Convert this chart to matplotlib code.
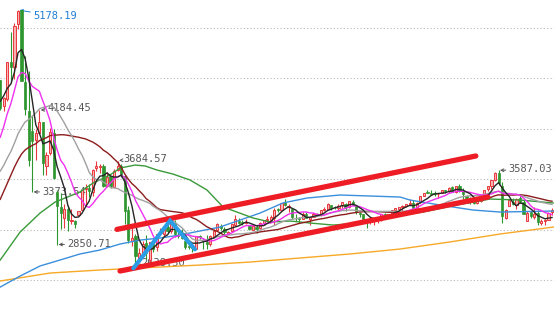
import matplotlib
matplotlib.use("Agg")
import matplotlib.pyplot as plt
import numpy as np

# weekly candles of the index, week 0 = week ending 2015-05-08
opens = [
    4480, 4221, 4300, 4660, 4616, 5044, 5175, 4466, 4172, 3976,
    3891, 3958, 4070, 3630, 3760, 3958, 3373, 3226, 3110, 3200,
    3090, 3090, 3144, 3197, 3398, 3413, 3376, 3612, 3618, 3629,
    3432, 3531, 3426, 3588, 3631, 3536, 3196, 2887, 2939, 2708,
    2742, 2863, 2697, 2889, 2826, 2967, 2958, 3021, 2982, 3067,
    2945, 2937, 2882, 2836, 2823, 2810, 2934, 2891, 2880, 2853,
    2925, 2993, 3038, 3007, 2957, 2982, 3048, 3090, 3070, 3069,
    3034, 3000, 3021, 3015, 3066, 3094, 3095, 3111, 3203, 3196,
    3271, 3226, 3205, 3118, 3110, 3105, 3155, 3103, 3128, 3157,
    3141, 3197, 3202, 3247, 3215, 3213, 3243, 3255, 3223, 3277,
    3238, 3158, 3150, 3094, 3078, 3092, 3098, 3099, 3150, 3129,
    3153, 3190, 3208, 3220, 3235, 3253, 3264, 3207, 3274, 3335,
    3371, 3360, 3356, 3349, 3363, 3392, 3381, 3420, 3369, 3436,
    3383, 3338, 3313, 3286, 3268, 3288, 3314, 3401, 3431, 3494,
    3563, 3436, 3118, 3238, 3277, 3246, 3310, 3273, 3083, 3171,
    3127, 3165, 3062, 3081, 3093, 3170,
]
highs = [
    4488, 4317, 4658, 4960, 5052, 5178, 5176, 4720, 4575, 4134,
    4001, 4184, 4071, 3773, 4006, 4000, 3388, 3358, 3256, 3236,
    3200, 3092, 3184, 3394, 3457, 3457, 3596, 3678, 3653, 3654,
    3576, 3531, 3600, 3685, 3650, 3539, 3236, 3017, 2952, 2814,
    2882, 2943, 2877, 2898, 2961, 3018, 3017, 3090, 3088, 3097,
    2978, 3003, 2882, 2861, 2838, 2938, 2946, 2912, 2942, 2945,
    3002, 3069, 3055, 3030, 2984, 3053, 3140, 3110, 3093, 3101,
    3036, 3048, 3046, 3074, 3097, 3133, 3145, 3211, 3213, 3263,
    3301, 3250, 3205, 3150, 3125, 3172, 3172, 3128, 3161, 3160,
    3198, 3221, 3260, 3247, 3238, 3251, 3272, 3267, 3287, 3295,
    3239, 3179, 3151, 3100, 3110, 3112, 3127, 3159, 3168, 3157,
    3193, 3218, 3224, 3247, 3254, 3305, 3292, 3269, 3332, 3367,
    3392, 3391, 3379, 3356, 3391, 3394, 3421, 3429, 3434, 3451,
    3409, 3346, 3323, 3317, 3304, 3311, 3392, 3430, 3488, 3568,
    3587, 3476, 3200, 3290, 3314, 3309, 3334, 3291, 3180, 3177,
    3220, 3192, 3108, 3107, 3178, 3219,
]
lows = [
    4187, 4175, 4279, 4457, 4489, 4993, 4476, 4139, 3629, 3374,
    3688, 3951, 3538, 3538, 3744, 3505, 2851, 3007, 3011, 2983,
    3053, 3012, 3133, 3197, 3239, 3320, 3337, 3585, 3564, 3423,
    3418, 3410, 3421, 3578, 3524, 3056, 2868, 2840, 2638, 2683,
    2741, 2704, 2639, 2780, 2788, 2950, 2934, 2966, 2969, 2931,
    2917, 2906, 2806, 2807, 2780, 2805, 2909, 2808, 2807, 2836,
    2923, 2986, 2998, 2941, 2952, 2982, 3040, 3052, 3049, 3058,
    2997, 2998, 2968, 3006, 3045, 3089, 3088, 3044, 3175, 3192,
    3233, 3178, 3100, 3085, 3077, 3104, 3111, 3044, 3124, 3131,
    3139, 3186, 3200, 3196, 3201, 3193, 3218, 3180, 3219, 3246,
    3150, 3127, 3096, 3016, 3053, 3047, 3062, 3085, 3108, 3117,
    3137, 3173, 3195, 3144, 3223, 3247, 3203, 3203, 3262, 3330,
    3359, 3350, 3338, 3317, 3361, 3365, 3364, 3371, 3365, 3368,
    3300, 3302, 3255, 3255, 3254, 3277, 3314, 3385, 3403, 3477,
    3447, 3062, 3107, 3234, 3241, 3204, 3264, 3150, 3083, 3119,
    3101, 3041, 3041, 3050, 3091, 3145,
]
closes = [
    4206, 4309, 4658, 4612, 5023, 5166, 4478, 4193, 3687, 3878,
    3957, 4071, 3664, 3744, 3965, 3508, 3232, 3160, 3200, 3098,
    3092, 3053, 3183, 3391, 3412, 3383, 3590, 3633, 3631, 3436,
    3525, 3435, 3579, 3628, 3539, 3186, 2901, 2917, 2738, 2763,
    2860, 2767, 2874, 2810, 2955, 2979, 3010, 2985, 3078, 2959,
    2938, 2913, 2827, 2825, 2821, 2939, 2927, 2885, 2854, 2932,
    2988, 3054, 3013, 2979, 2977, 3051, 3108, 3070, 3067, 3079,
    3003, 3034, 3005, 3064, 3091, 3104, 3125, 3196, 3193, 3262,
    3244, 3233, 3123, 3110, 3104, 3154, 3113, 3123, 3159, 3140,
    3197, 3202, 3253, 3218, 3213, 3237, 3269, 3223, 3287, 3246,
    3173, 3155, 3103, 3084, 3091, 3108, 3106, 3158, 3123, 3158,
    3192, 3218, 3222, 3238, 3253, 3262, 3209, 3268, 3332, 3367,
    3365, 3354, 3353, 3349, 3391, 3379, 3417, 3372, 3433, 3383,
    3354, 3318, 3290, 3266, 3297, 3307, 3392, 3429, 3488, 3558,
    3462, 3130, 3199, 3289, 3255, 3307, 3270, 3153, 3169, 3131,
    3159, 3072, 3082, 3091, 3163, 3193,
]

# moving averages as shown on the chart, one value per week
ma5 = [
    4273, 4328, 4402, 4445, 4562, 4754, 4787, 4694, 4509, 4280,
    4039, 3957, 3851, 3863, 3880, 3790, 3623, 3522, 3413, 3240,
    3156, 3121, 3125, 3163, 3226, 3284, 3392, 3482, 3530, 3535,
    3563, 3532, 3521, 3521, 3541, 3473, 3367, 3234, 3056, 2901,
    2836, 2809, 2800, 2815, 2853, 2877, 2926, 2948, 3001, 3002,
    2994, 2975, 2943, 2892, 2865, 2865, 2868, 2879, 2885, 2907,
    2917, 2943, 2968, 2993, 3002, 3015, 3026, 3037, 3055, 3075,
    3065, 3051, 3038, 3037, 3039, 3060, 3078, 3116, 3142, 3176,
    3204, 3226, 3211, 3194, 3163, 3145, 3121, 3121, 3131, 3138,
    3146, 3164, 3190, 3202, 3217, 3225, 3238, 3232, 3246, 3252,
    3240, 3217, 3193, 3152, 3121, 3108, 3098, 3109, 3117, 3131,
    3147, 3170, 3183, 3206, 3225, 3239, 3237, 3246, 3265, 3288,
    3308, 3337, 3354, 3358, 3362, 3365, 3378, 3382, 3398, 3397,
    3392, 3372, 3356, 3322, 3305, 3296, 3310, 3338, 3383, 3435,
    3466, 3413, 3367, 3328, 3267, 3236, 3264, 3255, 3231, 3206,
    3176, 3137, 3123, 3107, 3113, 3120,
]
ma10 = [
    3915, 4022, 4151, 4250, 4383, 4514, 4558, 4548, 4477, 4421,
    4397, 4372, 4273, 4186, 4080, 3915, 3790, 3687, 3638, 3560,
    3473, 3372, 3324, 3288, 3233, 3220, 3257, 3304, 3347, 3381,
    3424, 3462, 3502, 3526, 3538, 3518, 3450, 3378, 3289, 3221,
    3155, 3088, 3017, 2936, 2877, 2857, 2868, 2874, 2908, 2928,
    2936, 2951, 2946, 2947, 2934, 2930, 2922, 2911, 2889, 2886,
    2891, 2906, 2924, 2939, 2955, 2966, 2985, 3003, 3024, 3039,
    3040, 3039, 3038, 3046, 3057, 3063, 3065, 3077, 3090, 3108,
    3132, 3152, 3164, 3168, 3170, 3175, 3174, 3166, 3163, 3151,
    3146, 3143, 3156, 3167, 3178, 3186, 3201, 3211, 3224, 3235,
    3233, 3228, 3213, 3199, 3187, 3174, 3158, 3151, 3135, 3126,
    3128, 3134, 3146, 3162, 3178, 3193, 3204, 3215, 3236, 3257,
    3274, 3287, 3300, 3312, 3325, 3337, 3358, 3368, 3378, 3380,
    3379, 3375, 3369, 3360, 3351, 3344, 3341, 3347, 3353, 3370,
    3381, 3362, 3353, 3356, 3351, 3351, 3339, 3311, 3280, 3237,
    3206, 3201, 3189, 3169, 3160, 3148,
]
ma20 = [
    3580, 3638, 3710, 3775, 3858, 3949, 4012, 4068, 4092, 4123,
    4156, 4197, 4212, 4218, 4232, 4215, 4174, 4118, 4058, 3991,
    3935, 3872, 3799, 3737, 3657, 3568, 3524, 3496, 3493, 3471,
    3449, 3417, 3413, 3407, 3386, 3369, 3354, 3341, 3318, 3301,
    3290, 3275, 3260, 3231, 3208, 3188, 3159, 3126, 3099, 3075,
    3046, 3020, 2982, 2942, 2906, 2894, 2895, 2893, 2899, 2907,
    2914, 2929, 2935, 2943, 2945, 2948, 2954, 2957, 2957, 2963,
    2966, 2973, 2981, 2993, 3006, 3015, 3025, 3040, 3057, 3074,
    3086, 3096, 3101, 3107, 3114, 3119, 3120, 3122, 3127, 3130,
    3139, 3148, 3160, 3168, 3174, 3181, 3188, 3189, 3194, 3193,
    3190, 3186, 3185, 3183, 3183, 3180, 3180, 3181, 3180, 3181,
    3181, 3181, 3180, 3181, 3183, 3184, 3181, 3183, 3186, 3192,
    3201, 3211, 3223, 3237, 3252, 3265, 3281, 3292, 3307, 3319,
    3327, 3331, 3335, 3336, 3338, 3341, 3350, 3358, 3366, 3375,
    3380, 3369, 3361, 3358, 3351, 3348, 3340, 3329, 3317, 3304,
    3294, 3282, 3271, 3263, 3256, 3250,
]
ma30 = [
    3300, 3380, 3460, 3540, 3620, 3690, 3750, 3790, 3815, 3835,
    3852, 3882, 3897, 3912, 3932, 3937, 3938, 3941, 3940, 3935,
    3928, 3922, 3916, 3908, 3899, 3883, 3868, 3846, 3821, 3787,
    3765, 3735, 3700, 3667, 3617, 3551, 3499, 3456, 3425, 3387,
    3351, 3307, 3281, 3250, 3216, 3198, 3192, 3185, 3181, 3177,
    3172, 3167, 3155, 3136, 3116, 3102, 3080, 3054, 3029, 3012,
    2994, 2982, 2962, 2941, 2922, 2918, 2925, 2929, 2940, 2951,
    2956, 2965, 2969, 2977, 2982, 2986, 2991, 2997, 3001, 3011,
    3021, 3032, 3042, 3051, 3061, 3068, 3075, 3082, 3092, 3099,
    3106, 3111, 3119, 3127, 3135, 3141, 3147, 3151, 3159, 3165,
    3170, 3174, 3178, 3178, 3178, 3178, 3178, 3176, 3174, 3171,
    3169, 3168, 3172, 3176, 3181, 3184, 3188, 3192, 3198, 3206,
    3212, 3216, 3220, 3224, 3230, 3235, 3240, 3245, 3250, 3254,
    3260, 3265, 3272, 3278, 3285, 3291, 3301, 3310, 3322, 3336,
    3345, 3341, 3341, 3343, 3342, 3344, 3346, 3342, 3337, 3329,
    3322, 3313, 3304, 3295, 3287, 3281,
]

# long averages at a few weeks
ma60_weeks = [0, 5.6, 11.2, 15.4, 22.4, 26.1, 30.8, 33.7, 37.9, 40.7, 44.0,
              48.5, 53.3, 58.1, 62.6, 66.5, 71.0, 75.8, 81.4, 87.0, 93.5,
              101.1, 109.5, 118.8, 128.3, 137.6, 146.0, 155.3]
ma60_values = [2698, 2976, 3164, 3273, 3373, 3462, 3541, 3611, 3640, 3631, 3591,
               3551, 3492, 3392, 3224, 3174, 3115, 3075, 3085, 3065, 3045,
               3065, 3125, 3174, 3244, 3303, 3293, 3264]
ma120_weeks = [0, 5.6, 11.2, 16.8, 22.4, 28.0, 33.7, 39.3, 44.9, 50.5, 56.1,
               61.7, 67.4, 73.0, 79.4, 86.2, 95.4, 112.3, 115.1, 123.5, 132.8,
               140.4, 155.3]
ma120_values = [2430, 2539, 2639, 2698, 2758, 2797, 2857, 2896, 2916, 2946, 2986,
                3025, 3095, 3164, 3264, 3313, 3343, 3323, 3293, 3244, 3194,
                3174, 3184]
ma250_weeks = [0, 14.0, 28.0, 39.3, 56.1, 70.2, 84.2, 98.3, 112.3, 126.3, 140.4, 155.6]
ma250_values = [2490, 2569, 2599, 2619, 2648, 2678, 2718, 2758, 2807, 2877, 2956, 3026]

grid_levels = [2500, 3000, 3500, 4000, 4500, 5000]

# marked highs and lows
mark_weeks = [5, 11, 9, 16, 33, 38, 140]
mark_prices = [5178.19, 4184.45, 3373.54, 2850.71, 3684.57, 2638.30, 3587.03]

# hand-drawn channel and wave
upper_weeks = [32.8, 133.6]
upper_prices = [3002, 3730]
lower_weeks = [33.65, 137.0]
lower_prices = [2589, 3323]
wave_weeks = [37.4, 47.7, 54.7]
wave_prices = [2616, 3088, 2804]


def main() -> None:
    fig = plt.figure(figsize=(5.54, 3.27), dpi=100)
    ax = fig.add_axes([0, 0, 1, 1])
    ax.set_xlim(-0.06, 155.56)
    ax.set_ylim(2033.6, 5277.4)
    ax.axis("off")

    for level in grid_levels:
        ax.axhline(level, color="#b8b8b8", lw=0.8, ls=(0, (1, 2)), zorder=0)

    x = np.arange(len(closes))
    o = np.array(opens, dtype=float)
    h = np.array(highs, dtype=float)
    l = np.array(lows, dtype=float)
    c = np.array(closes, dtype=float)
    up = c >= o
    bottom = np.minimum(o, c)
    height = np.maximum(np.abs(c - o), 6)

    red, red_fill, green = "#e8383d", "#f7b3b3", "#2e962e"
    ax.vlines(x[up], l[up], h[up], color=red, lw=0.8, zorder=2)
    ax.vlines(x[~up], l[~up], h[~up], color=green, lw=0.8, zorder=2)
    ax.bar(x[up], height[up], bottom=bottom[up], width=0.62,
           facecolor=red_fill, edgecolor=red, linewidth=0.7, zorder=3)
    ax.bar(x[~up], height[~up], bottom=bottom[~up], width=0.62,
           facecolor=green, edgecolor=green, linewidth=0.5, zorder=3)

    ax.plot(ma250_weeks, ma250_values, color="#f7a928", lw=1.0, zorder=4)
    ax.plot(ma120_weeks, ma120_values, color="#3b8fdc", lw=1.0, zorder=4)
    ax.plot(ma60_weeks, ma60_values, color="#3a9a3a", lw=1.0, zorder=4)
    ax.plot(x, ma30, color="#8c1c1c", lw=1.0, zorder=4)
    ax.plot(x, ma20, color="#a0a0a0", lw=1.0, zorder=4)
    ax.plot(x, ma10, color="#f030f0", lw=1.0, zorder=4)
    ax.plot(x, ma5, color="#262626", lw=1.0, zorder=4)

    offsets = [(15, -6), (8, 2), (10, 0), (10, 1), (6, 2), (6, 3), (10, 1)]
    for i, (wk, price) in enumerate(zip(mark_weeks, mark_prices)):
        col = "#1f7fd6" if i == 0 else "#555555"
        ax.annotate(f"{price:.2f}", xy=(wk, price), xytext=offsets[i],
                    textcoords="offset pixels", ha="left", va="center",
                    fontsize=7.5, family="DejaVu Sans Mono", color=col, zorder=1,
                    arrowprops=dict(arrowstyle="->", color=col, lw=0.7,
                                    shrinkA=0, shrinkB=1, mutation_scale=5))

    ax.plot(upper_weeks, upper_prices, color="#ee1c24", lw=3.8,
            solid_capstyle="round", zorder=6)
    ax.plot(lower_weeks, lower_prices, color="#ee1c24", lw=3.8,
            solid_capstyle="round", zorder=6)
    ax.plot(wave_weeks, wave_prices, color="#2b9de6", lw=3.0,
            solid_capstyle="round", solid_joinstyle="miter", zorder=7)

    fig.savefig("out.png", dpi=100)
    plt.close(fig)


if __name__ == "__main__":
    main()
